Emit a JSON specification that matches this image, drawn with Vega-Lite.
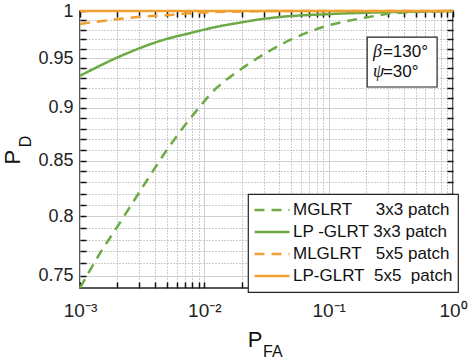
{
  "$schema": "https://vega.github.io/schema/vega-lite/v6.json",
  "width": 373,
  "height": 277,
  "autosize": "none",
  "padding": {"left": 80, "top": 11, "right": 21, "bottom": 74},
  "background": "white",
  "config": {
    "view": {"stroke": "#222", "strokeWidth": 1.5},
    "font": "Liberation Sans",
    "legend": {
      "orient": "none", "legendX": 168, "legendY": 183, "padding": 5,
      "strokeColor": "#222", "fillColor": "white", "strokeWidth": 1.2,
      "labelFont": "Liberation Sans", "labelFontSize": 17, "labelColor": "#111",
      "symbolType": "stroke", "symbolSize": 1225, "symbolStrokeWidth": 2.5,
      "clipHeight": 22, "labelLimit": 400, "rowPadding": 0, "labelOffset": 2
    }
  },
  "datasets": {
    "curves": [
      {"s": "MGLRT\u00a0\u00a0\u00a0\u00a0\u00a03x3 patch", "x": 0.001, "y": 0.74},
      {"s": "MGLRT\u00a0\u00a0\u00a0\u00a0\u00a03x3 patch", "x": 0.00145, "y": 0.7686},
      {"s": "MGLRT\u00a0\u00a0\u00a0\u00a0\u00a03x3 patch", "x": 0.00199, "y": 0.7907},
      {"s": "MGLRT\u00a0\u00a0\u00a0\u00a0\u00a03x3 patch", "x": 0.00346, "y": 0.832},
      {"s": "MGLRT\u00a0\u00a0\u00a0\u00a0\u00a03x3 patch", "x": 0.00501, "y": 0.86},
      {"s": "MGLRT\u00a0\u00a0\u00a0\u00a0\u00a03x3 patch", "x": 0.0081, "y": 0.893},
      {"s": "MGLRT\u00a0\u00a0\u00a0\u00a0\u00a03x3 patch", "x": 0.0126, "y": 0.92},
      {"s": "MGLRT\u00a0\u00a0\u00a0\u00a0\u00a03x3 patch", "x": 0.017, "y": 0.933},
      {"s": "MGLRT\u00a0\u00a0\u00a0\u00a0\u00a03x3 patch", "x": 0.0233, "y": 0.945},
      {"s": "MGLRT\u00a0\u00a0\u00a0\u00a0\u00a03x3 patch", "x": 0.0489, "y": 0.969},
      {"s": "MGLRT\u00a0\u00a0\u00a0\u00a0\u00a03x3 patch", "x": 0.0971, "y": 0.984},
      {"s": "MGLRT\u00a0\u00a0\u00a0\u00a0\u00a03x3 patch", "x": 0.189, "y": 0.9924},
      {"s": "MGLRT\u00a0\u00a0\u00a0\u00a0\u00a03x3 patch", "x": 0.355, "y": 0.9978},
      {"s": "MGLRT\u00a0\u00a0\u00a0\u00a0\u00a03x3 patch", "x": 1, "y": 1},
      {"s": "LP -GLRT 3x3 patch", "x": 0.001, "y": 0.932},
      {"s": "LP -GLRT 3x3 patch", "x": 0.00202, "y": 0.951},
      {"s": "LP -GLRT 3x3 patch", "x": 0.00441, "y": 0.968},
      {"s": "LP -GLRT 3x3 patch", "x": 0.0081, "y": 0.977},
      {"s": "LP -GLRT 3x3 patch", "x": 0.0126, "y": 0.983},
      {"s": "LP -GLRT 3x3 patch", "x": 0.0205, "y": 0.988},
      {"s": "LP -GLRT 3x3 patch", "x": 0.028, "y": 0.991},
      {"s": "LP -GLRT 3x3 patch", "x": 0.0406, "y": 0.9935},
      {"s": "LP -GLRT 3x3 patch", "x": 0.1026, "y": 0.9967},
      {"s": "LP -GLRT 3x3 patch", "x": 0.259, "y": 0.9985},
      {"s": "LP -GLRT 3x3 patch", "x": 1, "y": 1},
      {"s": "MLGLRT\u00a0\u00a0\u00a05x5 patch", "x": 0.001, "y": 0.986},
      {"s": "MLGLRT\u00a0\u00a0\u00a05x5 patch", "x": 0.00202, "y": 0.9913},
      {"s": "MLGLRT\u00a0\u00a0\u00a05x5 patch", "x": 0.00288, "y": 0.9935},
      {"s": "MLGLRT\u00a0\u00a0\u00a05x5 patch", "x": 0.0053, "y": 0.9957},
      {"s": "MLGLRT\u00a0\u00a0\u00a05x5 patch", "x": 0.0081, "y": 0.9978},
      {"s": "MLGLRT\u00a0\u00a0\u00a05x5 patch", "x": 0.02, "y": 0.9995},
      {"s": "MLGLRT\u00a0\u00a0\u00a05x5 patch", "x": 0.05, "y": 1},
      {"s": "MLGLRT\u00a0\u00a0\u00a05x5 patch", "x": 1, "y": 1},
      {"s": "LP-GLRT\u00a0\u00a05x5\u00a0\u00a0patch", "x": 0.001, "y": 1},
      {"s": "LP-GLRT\u00a0\u00a05x5\u00a0\u00a0patch", "x": 1, "y": 1}
    ],
    "box": [{"x": 0.204, "x2": 0.745, "y": 0.9207, "y2": 0.9721}],
    "greek": [{"t": "β", "x": 0.227, "y": 0.9564}, {"t": "ψ", "x": 0.227, "y": 0.9358}],
    "vals": [{"t": "=130°", "x": 0.227, "y": 0.9564}, {"t": "=30°", "x": 0.227, "y": 0.9358}],
    "yP": [{"t": "P", "x": 0.000329, "y": 0.8532}],
    "yD": [{"t": "D", "x": 0.000401, "y": 0.8677}],
    "xP": [{"t": "P", "x": 0.0256, "y": 0.694}],
    "xFA": [{"t": "FA", "x": 0.0297, "y": 0.6865}]
  },
  "resolve": {"axis": {"x": "independent", "y": "independent"}},
  "layer": [
    {
      "data": {"name": "curves"},
      "mark": {"type": "line", "strokeWidth": 2.5, "interpolate": "monotone"},
      "encoding": {
        "x": {
          "field": "x", "type": "quantitative",
          "scale": {"type": "log", "domain": [0.001, 1]},
          "axis": {
            "orient": "bottom", "title": null, "domain": false,
            "values": [0.001,0.002,0.003,0.004,0.005,0.006,0.007,0.008,0.009,0.01,0.02,0.03,0.04,0.05,0.06,0.07,0.08,0.09,0.1,0.2,0.3,0.4,0.5,0.6,0.7,0.8,0.9,1],
            "grid": true,
            "gridColor": {"condition": {"test": "abs(log(datum.value)/LN10 - round(log(datum.value)/LN10)) < 0.001", "value": "#cfcfcf"}, "value": "#9a9a9a"},
            "gridDash": {"condition": {"test": "abs(log(datum.value)/LN10 - round(log(datum.value)/LN10)) < 0.001", "value": []}, "value": [1, 2]},
            "gridWidth": 1,
            "tickSize": -6, "tickColor": "#111", "tickWidth": 1.5,
            "labelExpr": "abs(log(datum.value)/LN10 - round(log(datum.value)/LN10)) < 0.001 ? (datum.value > 0.5 ? '10⁰' : datum.value > 0.05 ? '10⁻¹' : datum.value > 0.005 ? '10⁻²' : '10⁻³') : ''",
            "labelFontSize": 19, "labelColor": "#222", "labelPadding": 19,
            "labelOverlap": false, "labelFlush": false, "labelBound": false
          }
        },
        "y": {
          "field": "y", "type": "quantitative",
          "scale": {"type": "log", "domain": [0.74, 1]},
          "axis": {
            "orient": "left", "title": null, "domain": false,
            "values": [0.75,0.76,0.77,0.78,0.79,0.8,0.81,0.82,0.83,0.84,0.85,0.86,0.87,0.88,0.89,0.9,0.91,0.92,0.93,0.94,0.95,0.96,0.97,0.98,0.99,1],
            "grid": true,
            "gridColor": {"condition": {"test": "abs(datum.value*20 - round(datum.value*20)) < 0.001", "value": "#cfcfcf"}, "value": "#9a9a9a"},
            "gridDash": {"condition": {"test": "abs(datum.value*20 - round(datum.value*20)) < 0.001", "value": []}, "value": [1, 2]},
            "gridWidth": 1,
            "tickSize": -6, "tickColor": "#111", "tickWidth": 1.5,
            "labelExpr": "abs(datum.value*20 - round(datum.value*20)) < 0.001 ? format(datum.value, '.2~f') : ''",
            "labelFontSize": 18, "labelColor": "#222", "labelPadding": 13,
            "labelOverlap": false, "labelFlush": false, "labelBound": false
          }
        },
        "color": {
          "field": "s", "type": "nominal", "title": null,
          "scale": {
            "domain": ["MGLRT\u00a0\u00a0\u00a0\u00a0\u00a03x3 patch", "LP -GLRT 3x3 patch", "MLGLRT\u00a0\u00a0\u00a05x5 patch", "LP-GLRT\u00a0\u00a05x5\u00a0\u00a0patch"],
            "range": ["#6DAA45", "#6DAA45", "#F0A030", "#F0A030"]
          }
        },
        "strokeDash": {
          "field": "s", "type": "nominal", "title": null,
          "scale": {
            "domain": ["MGLRT\u00a0\u00a0\u00a0\u00a0\u00a03x3 patch", "LP -GLRT 3x3 patch", "MLGLRT\u00a0\u00a0\u00a05x5 patch", "LP-GLRT\u00a0\u00a05x5\u00a0\u00a0patch"],
            "range": [[10, 7], [1, 0], [10, 7], [1, 0]]
          }
        }
      }
    },
    {
      "data": {"name": "box"},
      "mark": {"type": "rect", "fill": "white", "stroke": "#222", "strokeWidth": 1.2},
      "encoding": {
        "x": {
          "field": "x", "type": "quantitative",
          "scale": {"type": "log", "domain": [0.001, 1]},
          "axis": {
            "orient": "top", "title": null, "domain": false, "grid": false, "labels": false,
            "values": [0.001,0.002,0.003,0.004,0.005,0.006,0.007,0.008,0.009,0.01,0.02,0.03,0.04,0.05,0.06,0.07,0.08,0.09,0.1,0.2,0.3,0.4,0.5,0.6,0.7,0.8,0.9,1],
            "tickSize": -6, "tickColor": "#111", "tickWidth": 1.5
          }
        },
        "x2": {"field": "x2"},
        "y": {
          "field": "y", "type": "quantitative",
          "scale": {"type": "log", "domain": [0.74, 1]},
          "axis": {
            "orient": "right", "title": null, "domain": false, "grid": false, "labels": false,
            "values": [0.75,0.76,0.77,0.78,0.79,0.8,0.81,0.82,0.83,0.84,0.85,0.86,0.87,0.88,0.89,0.9,0.91,0.92,0.93,0.94,0.95,0.96,0.97,0.98,0.99,1],
            "tickSize": -6, "tickColor": "#111", "tickWidth": 1.5
          }
        },
        "y2": {"field": "y2"}
      }
    },
    {
      "data": {"name": "greek"},
      "mark": {"type": "text", "align": "left", "baseline": "middle", "fontSize": 18, "fontStyle": "italic", "font": "Liberation Serif", "color": "#111"},
      "encoding": {
        "x": {"field": "x", "type": "quantitative", "scale": {"type": "log", "domain": [0.001, 1]}, "axis": null},
        "y": {"field": "y", "type": "quantitative", "scale": {"type": "log", "domain": [0.74, 1]}, "axis": null},
        "text": {"field": "t"}
      }
    },
    {
      "data": {"name": "vals"},
      "mark": {"type": "text", "align": "left", "baseline": "middle", "fontSize": 17, "dx": 10, "color": "#111"},
      "encoding": {
        "x": {"field": "x", "type": "quantitative", "scale": {"type": "log", "domain": [0.001, 1]}, "axis": null},
        "y": {"field": "y", "type": "quantitative", "scale": {"type": "log", "domain": [0.74, 1]}, "axis": null},
        "text": {"field": "t"}
      }
    },
    {
      "data": {"name": "yP"},
      "mark": {"type": "text", "align": "center", "baseline": "alphabetic", "fontSize": 22, "angle": 270, "color": "#111"},
      "encoding": {
        "x": {"field": "x", "type": "quantitative", "scale": {"type": "log", "domain": [0.001, 1]}, "axis": null},
        "y": {"field": "y", "type": "quantitative", "scale": {"type": "log", "domain": [0.74, 1]}, "axis": null},
        "text": {"field": "t"}
      }
    },
    {
      "data": {"name": "yD"},
      "mark": {"type": "text", "align": "center", "baseline": "alphabetic", "fontSize": 16, "angle": 270, "color": "#111"},
      "encoding": {
        "x": {"field": "x", "type": "quantitative", "scale": {"type": "log", "domain": [0.001, 1]}, "axis": null},
        "y": {"field": "y", "type": "quantitative", "scale": {"type": "log", "domain": [0.74, 1]}, "axis": null},
        "text": {"field": "t"}
      }
    },
    {
      "data": {"name": "xP"},
      "mark": {"type": "text", "align": "center", "baseline": "alphabetic", "fontSize": 22, "color": "#111"},
      "encoding": {
        "x": {"field": "x", "type": "quantitative", "scale": {"type": "log", "domain": [0.001, 1]}, "axis": null},
        "y": {"field": "y", "type": "quantitative", "scale": {"type": "log", "domain": [0.74, 1]}, "axis": null},
        "text": {"field": "t"}
      }
    },
    {
      "data": {"name": "xFA"},
      "mark": {"type": "text", "align": "left", "baseline": "alphabetic", "fontSize": 16, "color": "#111"},
      "encoding": {
        "x": {"field": "x", "type": "quantitative", "scale": {"type": "log", "domain": [0.001, 1]}, "axis": null},
        "y": {"field": "y", "type": "quantitative", "scale": {"type": "log", "domain": [0.74, 1]}, "axis": null},
        "text": {"field": "t"}
      }
    }
  ]
}
